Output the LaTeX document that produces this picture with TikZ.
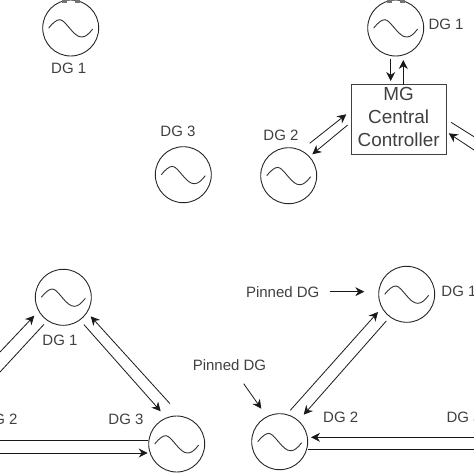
\documentclass[tikz,border=0pt]{standalone}
\usepackage{fontspec}
\setmainfont{Liberation Sans}
\usetikzlibrary{arrows.meta}
\definecolor{labelgray}{HTML}{404040}
\newcommand{\sinewave}[1]{\draw[line width=0.9pt,black!80] ([shift={(-22,0)}]#1.center) .. controls ([shift={(-18,-5)}]#1.center) and ([shift={(-14,-8.5)}]#1.center) .. ([shift={(-10.7,-8.3)}]#1.center) .. controls ([shift={(-5,-8)}]#1.center) and ([shift={(3,9.5)}]#1.center) .. ([shift={(11,9)}]#1.center) .. controls ([shift={(15,9)}]#1.center) and ([shift={(18,6)}]#1.center) .. ([shift={(22,1)}]#1.center);}
\tikzset{
    gen/.style={draw,circle,minimum size=56pt,inner sep=0pt,line width=0.9pt,black!85},
    lbl/.style={text=labelgray,font=\fontsize{15}{16}\selectfont,inner sep=0pt},
    ctrl/.style={draw=black!75,line width=1pt,minimum width=95pt,minimum height=69.5pt,inner sep=0pt},
    ctrltext/.style={text=labelgray,font=\fontsize{18.9}{23.2}\selectfont,align=center,inner sep=0pt},
    link/.style={line width=0.8pt,black!90},
    stub/.style={line width=4.5pt,black!55}
}
\begin{document}
\begin{tikzpicture}[x=1pt,y=-1pt,>={Stealth[length=9pt,width=9pt]}]
    \path[use as bounding box,clip] (0,0) rectangle (474,474);
    % upper left
    \node[gen] (ua) at (70.7,28) {};
    \node[gen] (uc) at (183.3,174.7) {};
    \node[lbl] (ualabel) at (68.7,68.7) {DG 1};
    \node[lbl] (uclabel) at (178,131) {DG 3};
    \sinewave{ua}\sinewave{uc}
    \draw[stub] ([shift={(-6,-28)}]ua.center) -- ([shift={(-6,-25.5)}]ua.center);
    \draw[stub] ([shift={(7,-28)}]ua.center) -- ([shift={(7,-25.5)}]ua.center);
    % upper right
    \node[gen] (va) at (395.7,28) {};
    \node[gen] (vb) at (288.7,175.7) {};
    \node[ctrl] (mg) at (398.5,119.3) {};
    \node[ctrltext] (mgtext) at (398.7,117) {MG\\Central\\Controller};
    \node[lbl] (valabel) at (446,24) {DG 1};
    \node[lbl] (vblabel) at (281,135) {DG 2};
    \sinewave{va}\sinewave{vb}
    \draw[stub] ([shift={(-6,-28)}]va.center) -- ([shift={(-6,-25.5)}]va.center);
    \draw[stub] ([shift={(7,-28)}]va.center) -- ([shift={(7,-25.5)}]va.center);
    \coordinate (vcin) at (474,136.7);\coordinate (vcout) at (474,150);
    \draw[->,link] ([shift={(-5,30.7)}]va.center) -- ([shift={(-7.8,-38.3)}]mg.center);
    \draw[->,link] ([shift={(4.8,-34.6)}]mg.center) -- ([shift={(7.6,32)}]va.center);
    \draw[->,link] ([shift={(21,-32.4)}]vb.center) -- ([shift={(-52.2,-5)}]mg.center);
    \draw[->,link] ([shift={(-50.8,5.7)}]mg.center) -- ([shift={(23.6,-21.4)}]vb.center);
    \draw[link] ([shift={(52.5,3)}]mg.center) -- (vcin);
    \draw[->,link] (vcout) -- ([shift={(50.2,14)}]mg.center);
    % lower left
    \node[gen] (wa) at (63.3,297.3) {};
    \node[gen] (wc) at (176.7,444) {};
    \node[lbl] (walabel) at (60,340) {DG 1};
    \node[lbl] (wblabel) at (0,419.3) {DG 2};
    \node[lbl] (wclabel) at (126,419.3) {DG 3};
    \sinewave{wa}\sinewave{wc}
    \coordinate (wbin) at (0,352);\coordinate (wbout) at (0,372);
    \coordinate (wbup) at (0,440.3);\coordinate (wbdown) at (0,453);
    \draw[->,link] (wbin) -- ([shift={(-29,18.4)}]wa.center);
    \draw[link] ([shift={(-19.3,27)}]wa.center) -- (wbout);
    \draw[->,link] ([shift={(20.7,27.4)}]wa.center) -- ([shift={(-16,-32.7)}]wc.center);
    \draw[->,link] ([shift={(-6.7,-40.3)}]wc.center) -- ([shift={(27.4,19)}]wa.center);
    \draw[link] (wbup) -- ([shift={(-29,-3.7)}]wc.center);
    \draw[->,link] (wbdown) -- ([shift={(-29,9)}]wc.center);
    % lower right
    \node[gen] (xa) at (406.7,294.3) {};
    \node[gen] (xb) at (279.7,441.7) {};
    \node[lbl] (xalabel) at (459,291) {DG 1};
    \node[lbl] (xblabel) at (340.7,417.3) {DG 2};
    \node[lbl] (xclabel) at (464,417.3) {DG 3};
    \node[lbl] (pina) at (282.7,291.7) {Pinned DG};
    \node[lbl] (pinb) at (229.5,365) {Pinned DG};
    \sinewave{xa}\sinewave{xb}
    \coordinate (xcin) at (474,437.3);\coordinate (xcout) at (474,449.3);
    \draw[->,link] ([shift={(47,0)}]pina.center) -- ([shift={(81.6,0)}]pina.center);
    \draw[->,link] ([shift={(14.2,18.7)}]pinb.center) -- ([shift={(-18.4,-33)}]xb.center);
    \draw[->,link] ([shift={(10.6,-31.4)}]xb.center) -- ([shift={(-28.7,17.7)}]xa.center);
    \draw[->,link] ([shift={(-20.4,26.7)}]xa.center) -- ([shift={(24,-27)}]xb.center);
    \draw[->,link] (xcin) -- ([shift={(31.3,-4.4)}]xb.center);
    \draw[link] ([shift={(28.3,7.6)}]xb.center) -- (xcout);
\end{tikzpicture}
\end{document}
